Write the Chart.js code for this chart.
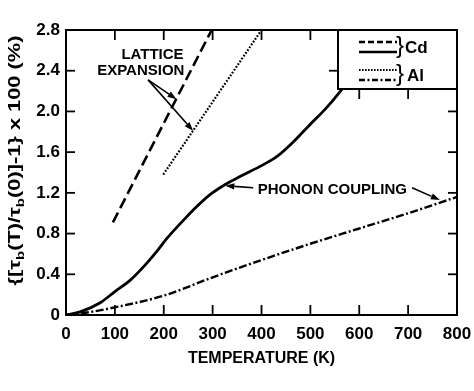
<!DOCTYPE html>
<html>
<head>
<meta charset="utf-8">
<script src="https://cdn.jsdelivr.net/npm/chart.js@4/dist/chart.umd.min.js"></script>
<style>
html,body{margin:0;padding:0;background:#fff;}
#wrap{width:474px;height:391px;}
</style>
</head>
<body>
<div id="wrap"><canvas id="c" width="474" height="391"></canvas></div>
<script>
// ---- data ----
const xTicks = [0, 100, 200, 300, 400, 500, 600, 700, 800];
const yTicks = [0, 0.4, 0.8, 1.2, 1.6, 2.0, 2.4, 2.8];

// Cd, lattice expansion (dashed)
const cdLatticeT = [96, 298];
const cdLatticeV = [0.91, 2.8];
// Al, lattice expansion (dotted)
const alLatticeT = [199, 400];
const alLatticeV = [1.38, 2.8];
// Cd, phonon coupling (solid)
const cdPhononT = [0, 29, 70, 100, 131, 158, 185, 206, 240, 260, 294, 325, 356, 397, 431, 465, 499, 530, 560, 600, 640, 660];
const cdPhononV = [0, 0.03, 0.12, 0.23, 0.34, 0.47, 0.62, 0.75, 0.93, 1.03, 1.18, 1.28, 1.36, 1.46, 1.555, 1.70, 1.87, 2.02, 2.19, 2.45, 2.75, 2.9];
// Al, phonon coupling (dash-dot)
const alPhononT = [0, 50, 100, 200, 300, 400, 500, 600, 700, 800];
const alPhononV = [0, 0.03, 0.075, 0.19, 0.37, 0.54, 0.70, 0.85, 1.00, 1.16];

const legendNames = ['Cd', 'Al'];
const xTitle = 'TEMPERATURE (K)';

// annotation anchors in data units
const labels = [
  {text: 'LATTICE', t: 177, v: 2.555},
  {text: 'EXPANSION', t: 153, v: 2.40},
  {text: 'PHONON COUPLING', t: 545, v: 1.23}
];
const arrows = [
  {t1: 168, v1: 2.31, t2: 226, v2: 2.12},
  {t1: 168, v1: 2.31, t2: 260, v2: 1.81},
  {t1: 383, v1: 1.25, t2: 326, v2: 1.27},
  {t1: 708, v1: 1.25, t2: 765, v2: 1.13}
];

function pts(T, V) { return T.map((t, i) => ({x: t, y: V[i]})); }

const FONT = "'Liberation Sans', Arial, sans-serif";
const black = '#000';

function arrow(ctx, x1, y1, x2, y2) {
  ctx.save();
  ctx.strokeStyle = black; ctx.fillStyle = black; ctx.lineWidth = 1.6;
  const a = Math.atan2(y2 - y1, x2 - x1);
  const L = 9, W = 3.2;
  const bx = x2 - L * Math.cos(a), by = y2 - L * Math.sin(a);
  ctx.beginPath(); ctx.moveTo(x1, y1); ctx.lineTo(bx, by); ctx.stroke();
  ctx.beginPath();
  ctx.moveTo(x2, y2);
  ctx.lineTo(bx + W * Math.sin(a), by - W * Math.cos(a));
  ctx.lineTo(bx - W * Math.sin(a), by + W * Math.cos(a));
  ctx.closePath(); ctx.fill();
  ctx.restore();
}

const decor = {
  id: 'decor',
  afterDatasetsDraw(chart) {
    const {ctx, chartArea: ca, scales: {x, y}} = chart;
    ctx.save();
    // legend box
    const bL = ca.right - 119, bT = ca.top, bR = ca.right, bB = ca.top + 59;
    ctx.fillStyle = '#fff';
    ctx.fillRect(bL, bT, bR - bL, bB - bT);
    ctx.strokeStyle = black; ctx.lineWidth = 2;
    ctx.strokeRect(bL, bT, bR - bL, bB - bT);

    // legend samples
    const sx1 = bL + 21, sx2 = bL + 59;
    const samples = [
      {yy: bT + 12, dash: [6, 3], w: 2.4},
      {yy: bT + 22, dash: [], w: 2.6},
      {yy: bT + 40, dash: [1.6, 1.4], w: 2.2},
      {yy: bT + 50, dash: [6, 2.5, 2, 2.5], w: 2.4}
    ];
    samples.forEach(s => {
      ctx.beginPath(); ctx.setLineDash(s.dash); ctx.lineWidth = s.w;
      ctx.moveTo(sx1, s.yy); ctx.lineTo(sx2, s.yy); ctx.stroke();
    });
    ctx.setLineDash([]);
    ctx.fillStyle = black;
    ctx.textBaseline = 'middle'; ctx.textAlign = 'left';
    ctx.font = '24px ' + FONT;
    ctx.fillText('}', sx2 - 1, bT + 16);
    ctx.fillText('}', sx2 - 1, bT + 44);
    ctx.font = 'bold 17px ' + FONT;
    ctx.fillText(legendNames[0], sx2 + 8, bT + 18);
    ctx.fillText(legendNames[1], sx2 + 10, bT + 46);

    // frame
    ctx.lineWidth = 2;
    ctx.strokeRect(ca.left, ca.top, ca.right - ca.left, ca.bottom - ca.top);

    // inward ticks
    ctx.lineWidth = 1.8;
    xTicks.slice(1, -1).forEach(t => {
      const px = x.getPixelForValue(t);
      ctx.beginPath(); ctx.moveTo(px, ca.bottom); ctx.lineTo(px, ca.bottom - 10); ctx.stroke();
      const top = (px > bL) ? bB : ca.top;
      ctx.beginPath(); ctx.moveTo(px, top); ctx.lineTo(px, top + 10); ctx.stroke();
    });
    yTicks.slice(1, -1).forEach(v => {
      const py = y.getPixelForValue(v);
      ctx.beginPath(); ctx.moveTo(ca.left, py); ctx.lineTo(ca.left + 9, py); ctx.stroke();
      const r = (py < bB) ? bL : ca.right;
      ctx.beginPath(); ctx.moveTo(r, py); ctx.lineTo(r - 9, py); ctx.stroke();
    });

    // annotations
    ctx.font = 'bold 15px ' + FONT;
    ctx.textAlign = 'center'; ctx.textBaseline = 'middle';
    labels.forEach(l => ctx.fillText(l.text, x.getPixelForValue(l.t), y.getPixelForValue(l.v)));
    arrows.forEach(a => arrow(ctx, x.getPixelForValue(a.t1), y.getPixelForValue(a.v1),
                                   x.getPixelForValue(a.t2), y.getPixelForValue(a.v2)));

    // y-axis title with subscripts
    const segs = [
      {s: '{[τ', sub: false}, {s: 'b', sub: true}, {s: '(T)/τ', sub: false},
      {s: 'b', sub: true}, {s: '(0)]-1} x 100 (%)', sub: false}
    ];
    const mainF = 'bold 16px ' + FONT, subF = 'bold 11px ' + FONT;
    let total = 0;
    segs.forEach(g => { ctx.font = g.sub ? subF : mainF; g.w = ctx.measureText(g.s).width; total += g.w; });
    const cy = (ca.top + ca.bottom) / 2 - 12;
    ctx.translate(20, cy);
    ctx.rotate(-Math.PI / 2);
    const sc = 250 / total;
    ctx.scale(sc, 1);
    ctx.textAlign = 'left'; ctx.textBaseline = 'alphabetic';
    let cx = -total / 2;
    segs.forEach(g => {
      ctx.font = g.sub ? subF : mainF;
      ctx.fillText(g.s, cx, g.sub ? 4 : 0);
      cx += g.w;
    });
    ctx.restore();
  }
};

new Chart(document.getElementById('c'), {
  type: 'line',
  data: {
    datasets: [
      {data: pts(cdLatticeT, cdLatticeV), borderColor: black, borderWidth: 2.6, borderDash: [11, 5], pointRadius: 0, tension: 0},
      {data: pts(alLatticeT, alLatticeV), borderColor: black, borderWidth: 2.2, borderDash: [1.8, 1.6], pointRadius: 0, tension: 0},
      {data: pts(cdPhononT, cdPhononV), borderColor: black, borderWidth: 2.8, pointRadius: 0, cubicInterpolationMode: 'monotone'},
      {data: pts(alPhononT, alPhononV), borderColor: black, borderWidth: 2.4, borderDash: [8, 2.5, 2, 2.5], pointRadius: 0, cubicInterpolationMode: 'monotone'}
    ]
  },
  options: {
    responsive: false,
    animation: false,
    layout: {padding: {top: 30, right: 17, left: 0, bottom: 0}},
    plugins: {legend: {display: false}, tooltip: {enabled: false}},
    scales: {
      x: {
        type: 'linear', min: 0, max: 800,
        afterBuildTicks: s => { s.ticks = xTicks.map(v => ({value: v})); },
        afterFit: s => { s.height = 76; s.paddingLeft = 0; s.paddingRight = 0; },
        grid: {display: false, drawTicks: false},
        border: {display: true, color: black, width: 2},
        ticks: {color: black, padding: 9, font: {family: FONT, size: 17, weight: 'bold'}, maxRotation: 0, callback: v => String(v)},
        title: {display: true, text: xTitle, color: black, padding: {top: 0, bottom: 23}, font: {family: FONT, size: 16, weight: 'bold'}}
      },
      y: {
        type: 'linear', min: 0, max: 2.8,
        afterBuildTicks: s => { s.ticks = yTicks.map(v => ({value: v})); },
        afterFit: s => { s.width = 66; s.paddingTop = 0; s.paddingBottom = 0; },
        grid: {display: false, drawTicks: false},
        border: {display: true, color: black, width: 2},
        ticks: {color: black, padding: 6, font: {family: FONT, size: 17, weight: 'bold'}, callback: v => v === 0 ? '0' : Number(v).toFixed(1)}
      }
    }
  },
  plugins: [decor]
});
</script>
</body>
</html>
